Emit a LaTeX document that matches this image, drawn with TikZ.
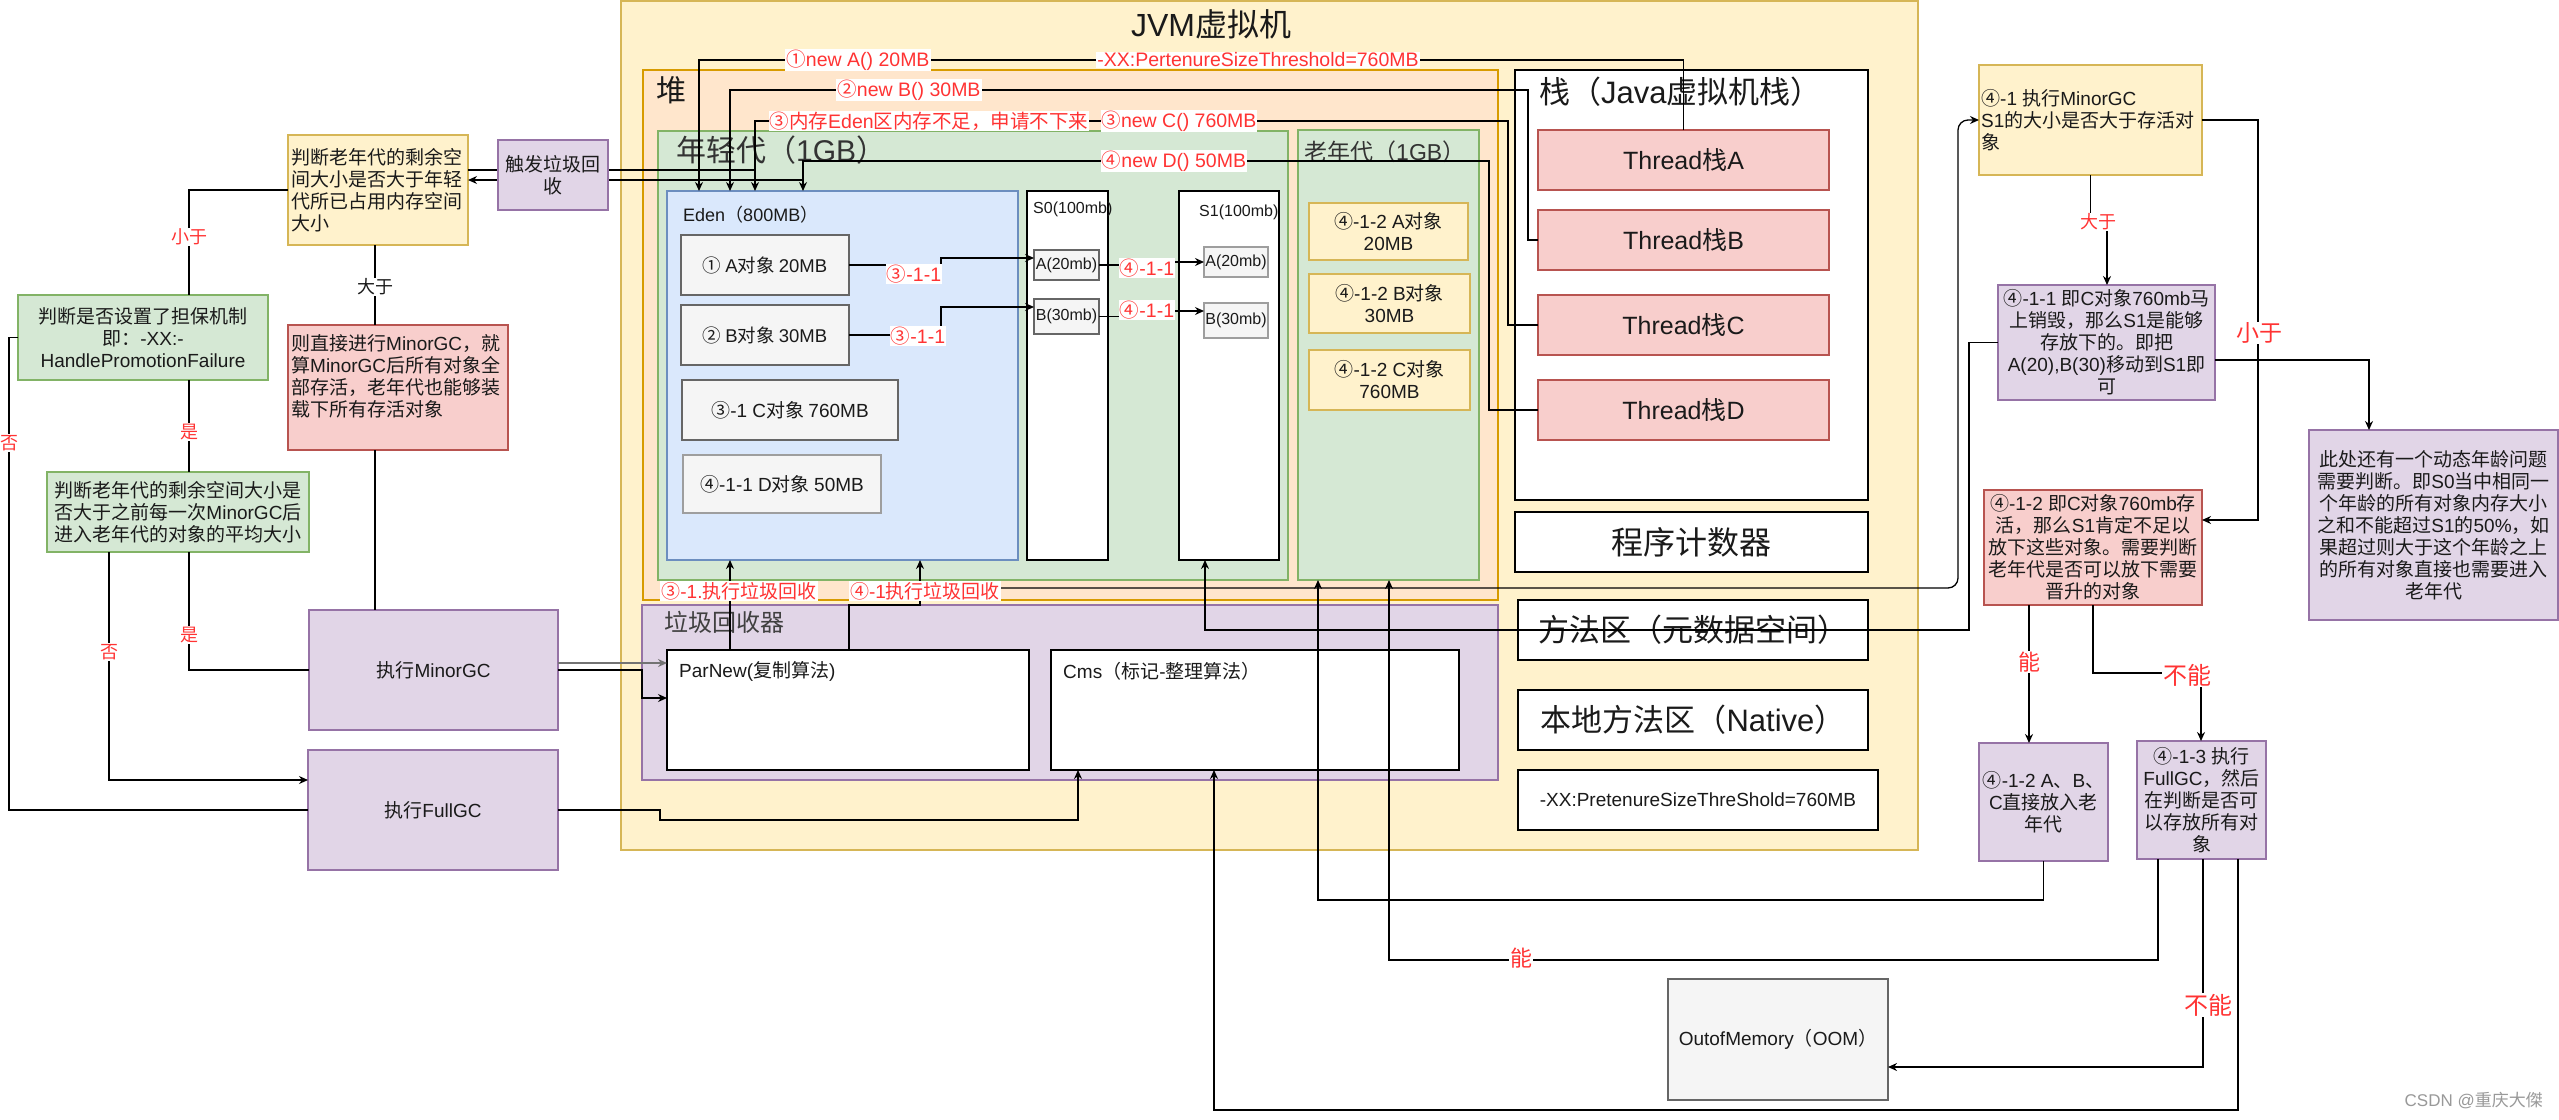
\documentclass[tikz,border=0pt]{standalone}
\usepackage{fontspec}
\setmainfont{Liberation Sans}
\newfontfamily\cjkfont{Noto Sans CJK SC}
\newfontfamily\latfont{Liberation Sans}
\usetikzlibrary{arrows.meta}
\XeTeXinterchartokenstate=1
\chardef\cjkcls=7
\newcount\mycnt
\newcommand{\setcjkrange}[2]{\mycnt=#1\relax\loop\XeTeXcharclass\mycnt=\cjkcls\relax\ifnum\mycnt<#2\relax\advance\mycnt by 1\relax\repeat}
\setcjkrange{"2460}{"24FF}
\setcjkrange{"3000}{"303F}
\setcjkrange{"4E00}{"9FFF}
\setcjkrange{"FF00}{"FFEF}
\XeTeXinterchartoks 0 \cjkcls = {\cjkfont}
\XeTeXinterchartoks 4095 \cjkcls = {\cjkfont}
\XeTeXinterchartoks \cjkcls 0 = {\latfont}
\XeTeXinterchartoks 4095 0 = {\latfont}
\definecolor{yfill}{HTML}{FFF2CC}\definecolor{ydraw}{HTML}{D6B656}
\definecolor{ofill}{HTML}{FFE6CC}\definecolor{odraw}{HTML}{D79B00}
\definecolor{gfill}{HTML}{D5E8D4}\definecolor{gdraw}{HTML}{82B366}
\definecolor{bfill}{HTML}{DAE8FC}\definecolor{bdraw}{HTML}{6C8EBF}
\definecolor{pfill}{HTML}{E1D5E7}\definecolor{pdraw}{HTML}{9673A6}
\definecolor{rfill}{HTML}{F8CECC}\definecolor{rdraw}{HTML}{B85450}
\definecolor{sfill}{HTML}{F5F5F5}\definecolor{sdraw}{HTML}{666666}
\definecolor{lred}{HTML}{FF3333}
\definecolor{txt}{HTML}{1A1A1A}
\tikzset{
 fs/.style={font=\fontsize{#1}{22}\selectfont},
 bxb/.style={draw, inner sep=0pt, outer sep=0pt, line width=1.3pt, align=center, text=txt},
 ybx/.style={bxb, fill=yfill, draw=ydraw},
 obx/.style={bxb, fill=ofill, draw=odraw},
 gbx/.style={bxb, fill=gfill, draw=gdraw},
 bbx/.style={bxb, fill=bfill, draw=bdraw},
 pbx/.style={bxb, fill=pfill, draw=pdraw},
 rbx/.style={bxb, fill=rfill, draw=rdraw},
 sbx/.style={bxb, fill=sfill, draw=sdraw},
 thickgray/.style={draw=black!38, line width=2.6pt},
 wbx/.style={bxb, fill=white, draw=black},
 tl/.style={inner sep=0pt, text=txt},
 conn/.style={line width=1.3pt, draw=black},
 arr/.style={conn, -{Stealth[length=9pt,width=8pt]}},
 lbl/.style={fill=white, inner sep=1pt, text=lred},
}
\newcommand{\mybox}[7]{\node[#6, anchor=north west, minimum width={#4pt-#2pt}, minimum height={#5pt-#3pt}] (#1) at (#2,#3) {#7};}
\begin{document}
\begin{tikzpicture}[x=1pt,y=-1pt]
\fill[white] (0,0) rectangle (2559,1119);
\useasboundingbox (0,0) rectangle (2559,1119);

% ===== JVM container =====
\mybox{jvm}{621}{1}{1918}{850}{ybx}{}
\node[tl,fs=32] (jvmt) at (1211,24) {JVM虚拟机};
\mybox{heap}{643}{70}{1498}{600}{obx}{}
\node[tl,fs=30,anchor=west] (heapt) at (656,90) {堆};
\mybox{young}{658}{131}{1288}{580}{gbx}{}
\node[tl,fs=30,anchor=west,text=black!80] (youngt) at (676,150) {年轻代（1GB）};
\mybox{eden}{667}{191}{1018}{560}{bbx}{}
\node[tl,fs=18,anchor=west] (edent) at (683,215) {Eden（800MB）};
\mybox{objA}{681}{235}{849}{295}{sbx,fs=18.5}{① A对象 20MB}
\mybox{objB}{681}{305}{849}{365}{sbx,fs=18.5}{② B对象 30MB}
\mybox{objC}{682}{380}{898}{440}{sbx,fs=19}{③-1 C对象 760MB}
\mybox{objD}{683}{455}{881}{513}{sbx,thickgray,fs=19}{④-1-1 D对象 50MB}
\mybox{s0}{1027}{191}{1108}{560}{wbx}{}
\node[tl,fs=16,anchor=west] (s0t) at (1033,209) {S0(100mb)};
\mybox{s0a}{1034}{250}{1099}{280}{sbx,fs=16}{A(20mb)}
\mybox{s0b}{1034}{299}{1099}{334}{sbx,fs=16}{B(30mb)}
\mybox{s1}{1179}{191}{1279}{560}{wbx}{}
\node[tl,fs=16,anchor=west] (s1t) at (1199,212) {S1(100mb)};
\mybox{s1a}{1204}{247}{1268}{277}{sbx,thickgray,fs=16}{A(20mb)}
\mybox{s1b}{1204}{303}{1268}{338}{sbx,thickgray,fs=16}{B(30mb)}

\mybox{old}{1298}{130}{1479}{580}{gbx}{}
\node[tl,fs=23,anchor=west,text=black!80] (oldt) at (1304,152) {老年代（1GB）};
\mybox{oldA}{1309}{203}{1468}{260}{ybx,fs=19}{④-1-2 A对象\\20MB}
\mybox{oldB}{1309}{274}{1470}{333}{ybx,fs=19}{④-1-2 B对象\\30MB}
\mybox{oldC}{1309}{350}{1470}{410}{ybx,fs=19}{④-1-2 C对象\\760MB}

\mybox{stack}{1515}{70}{1868}{500}{wbx}{}
\node[tl,fs=31,anchor=west] (stackt) at (1539,92) {栈（Java虚拟机栈）};
\mybox{thA}{1538}{130}{1829}{190}{rbx,fs=25}{Thread栈A}
\mybox{thB}{1538}{210}{1829}{270}{rbx,fs=25}{Thread栈B}
\mybox{thC}{1538}{295}{1829}{355}{rbx,fs=25}{Thread栈C}
\mybox{thD}{1538}{380}{1829}{440}{rbx,fs=25}{Thread栈D}
\mybox{pc}{1515}{512}{1868}{572}{wbx,fs=32}{程序计数器}
\mybox{meth}{1518}{600}{1868}{660}{wbx,fs=31}{方法区（元数据空间）}
\mybox{native}{1518}{690}{1868}{750}{wbx,fs=31}{本地方法区（Native）}
\mybox{xx}{1518}{770}{1878}{830}{wbx,fs=19}{-XX:PretenureSizeThreShold=760MB}

\mybox{gc}{642}{605}{1498}{780}{pbx}{}
\node[tl,fs=24,anchor=west,text=black!75] (gct) at (664,622) {垃圾回收器};
\mybox{parnew}{667}{650}{1029}{770}{wbx}{}
\node[tl,fs=19,anchor=west] (parnewt) at (679,671) {ParNew(复制算法)};
\mybox{cms}{1051}{650}{1459}{770}{wbx}{}
\node[tl,fs=19,anchor=west] (cmst) at (1063,671) {Cms（标记-整理算法）};

% ===== left flow =====
\mybox{judge1}{288}{135}{468}{245}{ybx}{}
\node[tl,fs=19,anchor=west,align=left] (judge1t) at (291,190.5) {判断老年代的剩余空\\间大小是否大于年轻\\代所已占用内存空间\\大小};
\mybox{direct}{288}{325}{508}{450}{rbx}{}
\node[tl,fs=19,anchor=west,align=left] (directt) at (291,376.5) {则直接进行MinorGC，就\\算MinorGC后所有对象全\\部存活，老年代也能够装\\载下所有存活对象};
\mybox{guar}{18}{295}{268}{380}{gbx,fs=19}{判断是否设置了担保机制\\即：-XX:-\\HandlePromotionFailure}
\mybox{judge2}{47}{472}{309}{552}{gbx,fs=19}{判断老年代的剩余空间大小是\\否大于之前每一次MinorGC后\\进入老年代的对象的平均大小}
\mybox{minor}{309}{610}{558}{730}{pbx,fs=19}{执行MinorGC}
\mybox{full}{308}{750}{558}{870}{pbx,fs=19}{执行FullGC}

% ===== right flow =====
\mybox{q41}{1979}{65}{2202}{175}{ybx}{}
\node[tl,fs=19,anchor=west,align=left] (q41t) at (1981,120) {④-1 执行MinorGC\\S1的大小是否大于存活对\\象};
\mybox{q411}{1998}{285}{2215}{400}{pbx,fs=19}{④-1-1 即C对象760mb马\\上销毁，那么S1是能够\\存放下的。即把\\A(20),B(30)移动到S1即\\可}
\mybox{dyn}{2309}{430}{2558}{620}{pbx,fs=19}{此处还有一个动态年龄问题\\需要判断。即S0当中相同一\\个年龄的所有对象内存大小\\之和不能超过S1的50\%，如\\果超过则大于这个年龄之上\\的所有对象直接也需要进入\\老年代}
\mybox{q412}{1984}{490}{2202}{605}{rbx,fs=19}{④-1-2 即C对象760mb存\\活，那么S1肯定不足以\\放下这些对象。需要判断\\老年代是否可以放下需要\\晋升的对象}
\mybox{abc}{1979}{743}{2108}{861}{pbx,fs=19}{④-1-2 A、B、\\C直接放入老\\年代}
\mybox{q413}{2137}{741}{2266}{859}{pbx,fs=19}{④-1-3 执行\\FullGC，然后\\在判断是否可\\以存放所有对\\象}
\mybox{oom}{1668}{979}{1888}{1100}{sbx,fs=19}{OutofMemory（OOM）}

% ===== connectors =====
\draw[arr] (thA.north) |- (699,60) -- ([xshift=32pt]eden.north west);
\draw[arr] (thB.west) -- (1528,240) |- (730,90) -- ([xshift=63pt]eden.north west);
\draw[arr] (thC.west) -- (1508,325) |- (755,121) -- ([xshift=88pt]eden.north west);
\draw[arr] (thD.west) -- (1489,410) |- (803,161) -- ([xshift=136pt]eden.north west);
\draw[conn] (755,170) -- ([yshift=20pt]judge1.east);
\draw[arr] (803,180) -- ([yshift=10pt]judge1.east);

\draw[arr] (objA.east) -- (941,265) -- (941,258) -- ([yshift=7pt]s0a.west);
\draw[arr] (objB.east) -- (941,335) -- (941,307) -- ([yshift=9.5pt]s0b.west);
\draw[arr] (s0a.east) -- (1150,265) -- (1150,262) -- (s1a.west);
\draw[arr] (s0b.east) -- (1150,316.5) -- (1150,311) -- ([yshift=9.5pt]s1b.west);

\draw[arr] ([xshift=63pt]parnew.north west) -- ([xshift=63pt]eden.south west);
\draw[arr] ([xshift=182pt]parnew.north west) -- (849,605) -- (920,605) -- ([xshift=253pt]eden.south west);
\draw[arr, rounded corners=10pt] (999,588) -- (1958,588) -- (1958,120) -- (q41.west);
\draw[arr] (q411.west) -- (1969,342.5) -- (1969,630) -- (1205,630) -- ([xshift=26pt]s1.south west);

\draw[arr, draw=black!55, line width=2.4pt] ([yshift=7pt]minor.east) -- ([yshift=47pt]parnew.west);
\draw[arr] (minor.east) -- (642,670) -- (642,698) -- ([yshift=12pt]parnew.west);
\draw[arr] (full.east) -- (660,810) -- (660,820) -- (1078,820) -- ([xshift=27pt]cms.south west);
\draw[arr] ([xshift=101pt]q413.south west) -- (2238,1110) -- (1214,1110) -- ([xshift=163pt]cms.south west);
\draw[arr] ([xshift=66pt]q413.south west) -- (2203,1067) -- ([yshift=-27.5pt]oom.east);
\draw[arr] ([xshift=21pt]q413.south west) -- (2158,960) -- (1389,960) -- ([xshift=91pt]old.south west);
\draw[arr] (abc.south) -- (2043.5,900) -- (1318,900) -- ([xshift=20pt]old.south west);

\draw[arr] (q41.south) -- (2090.5,222) -- (2107,222) -- ([xshift=109pt]q411.north west);
\draw[arr] (q41.east) -- (2258,120) -- (2258,520) -- ([yshift=27.5pt]q412.east);
\draw[arr] ([yshift=-17.5pt]q411.east) -- (2369,360) -- ([xshift=60pt]dyn.north west);
\draw[arr] ([xshift=45pt]q412.south west) -- ([xshift=50pt]abc.north west);
\draw[arr] ([xshift=109pt]q412.south west) -- (2093,673) -- (2201,673) -- ([xshift=64pt]q413.north west);

\draw[conn] (judge1.west) -| ([xshift=171pt]guar.north west);
\draw[conn] ([xshift=87pt]judge1.south west) -- ([xshift=87pt]direct.north west);
\draw[conn] ([xshift=87pt]direct.south west) -- ([xshift=66pt]minor.north west);
\draw[conn] ([xshift=171pt]guar.south west) -- ([xshift=142pt]judge2.north west);
\draw[conn] ([xshift=142pt]judge2.south west) |- (minor.west);
\draw[arr] ([xshift=62pt]judge2.south west) |- ([yshift=30pt]full.west);
\draw[conn] (guar.west) -- (9,337.5) |- (full.west);

% trigger box drawn over the lines
\mybox{trig}{498}{140}{608}{210}{pbx,fs=19}{触发垃圾回\\收}

% ===== labels =====
\node[lbl,fs=19.5] (la) at (858,60) {①new A() 20MB};
\node[lbl,fs=19.5] (lxx) at (1258,60) {-XX:PertenureSizeThreshold=760MB};
\node[lbl,fs=19.5] (lb) at (909,90) {②new B() 30MB};
\node[lbl,fs=19.5] (lc1) at (929,121) {③内存Eden区内存不足，申请不下来};
\node[lbl,fs=19.5] (lc2) at (1179,121) {③new C() 760MB};
\node[lbl,fs=19.5] (ld) at (1174,161) {④new D() 50MB};
\node[lbl,fs=19.5] (l311a) at (914,274) {③-1-1};
\node[lbl,fs=19.5] (l311b) at (918,336) {③-1-1};
\node[lbl,fs=19.5] (l411a) at (1147,268) {④-1-1};
\node[lbl,fs=19.5] (l411b) at (1147,310) {④-1-1};
\node[lbl,fs=19] (l31) at (739,591) {③-1.执行垃圾回收};
\node[lbl,fs=19] (l41) at (925,591) {④-1执行垃圾回收};

\node[lbl,fs=18] (lxy1) at (189,237) {小于};
\node[lbl,fs=18,text=txt] (ldy1) at (375,287) {大于};
\node[lbl,fs=18] (ls1) at (189,432) {是};
\node[lbl,fs=18] (ls2) at (189,635) {是};
\node[lbl,fs=18] (lf1) at (109,652) {否};
\node[lbl,fs=18] (lf2) at (9,443) {否};

\node[lbl,fs=18] (ldy2) at (2098,222) {大于};
\node[lbl,fs=23] (lxy2) at (2259,333) {小于};
\node[lbl,fs=22] (ln1) at (2029,662) {能};
\node[lbl,fs=24] (lbn1) at (2187,675) {不能};
\node[lbl,fs=22] (ln2) at (1521,958) {能};
\node[lbl,fs=24] (lbn2) at (2208,1005) {不能};

\node[tl,fs=17,text=black!40,anchor=east] (wm) at (2543,1101) {CSDN @重庆大傑};
\end{tikzpicture}
\end{document}
